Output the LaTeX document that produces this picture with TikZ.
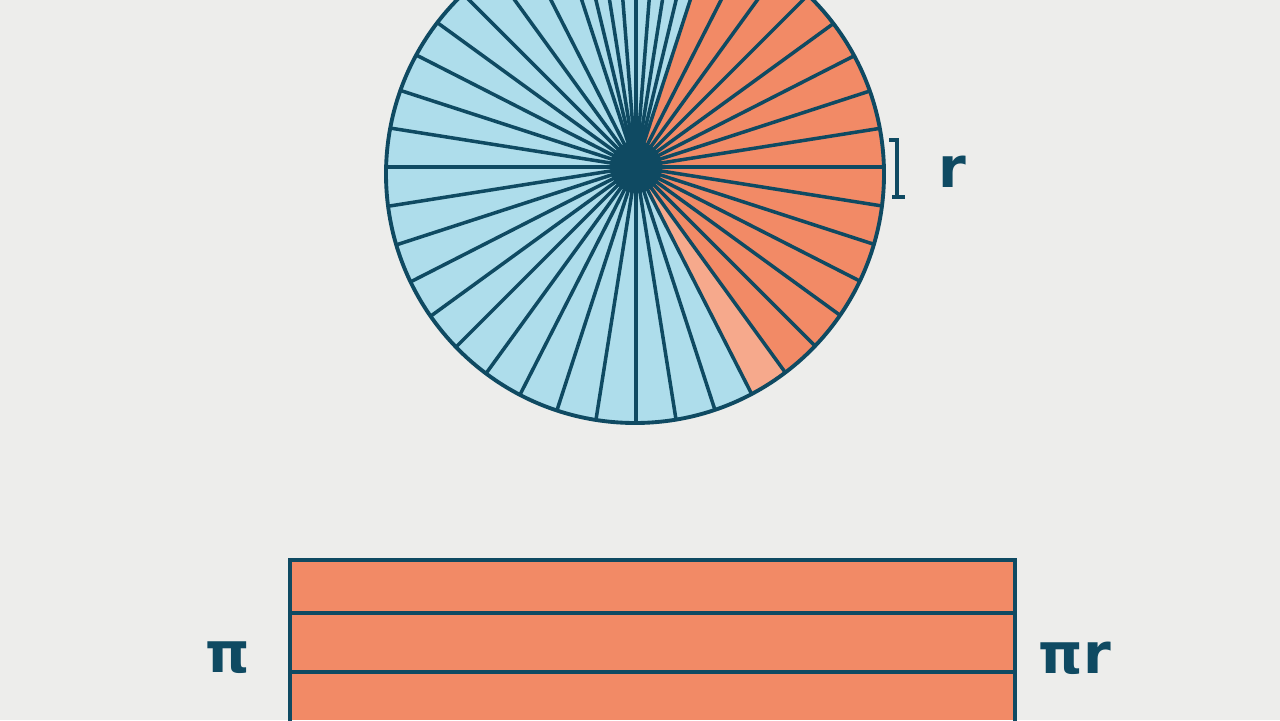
\documentclass[tikz,border=0pt]{standalone}
\usepackage{fontspec}
\setmainfont{DejaVu Sans}
\usetikzlibrary{calc}
\definecolor{bg}{HTML}{EDEDEB}
\definecolor{navy}{HTML}{0F4A62}
\definecolor{skyblue}{HTML}{AEDDEB}
\definecolor{coral}{HTML}{F28A66}
\definecolor{palecoral}{HTML}{F6A98C}
\tikzset{
  rim/.style={draw=navy, line width=2.2pt},
  spoke/.style={draw=navy, line width=2pt},
  edge/.style={draw=navy, line width=2.2pt},
  lab/.style={text=navy, font=\bfseries\fontsize{32}{36}\selectfont, inner sep=0pt},
}
\begin{document}
\begin{tikzpicture}[x=0.02cm, y=0.02cm]
\clip (0,0) rectangle (1280,720);
\fill[bg] (0,0) rectangle (1280,720);
%円%
\coordinate (c) at (635,546);
\coordinate (h) at (636,553);
\begin{scope}
\clip (c) circle (249);
\fill[skyblue] (c) circle (249);
\fill[coral] (h) -- ++(-54:400) arc[start angle=-54, end angle=72, radius=400] -- cycle;
\fill[palecoral] (h) -- ++(-63:400) arc[start angle=-63, end angle=-54, radius=400] -- cycle;
%放射線%
\foreach \a in {0,9,...,351}
  \draw[spoke] (h) -- ++(\a:400);
\foreach \a in {76.5,85.5,94.5,103.5}
  \draw[spoke] (h) -- ++(\a:400);
\end{scope}
\fill[navy] (h) circle (26);
\draw[rim] (c) circle (249);
%半径の印%
\coordinate (rtop) at (897,580);
\coordinate (rbot) at (897,523);
\draw[navy, line width=2.6pt] ($(rtop)+(-8,0)$) -- (rtop) -- (rbot) ($(rbot)+(-5,0)$) -- ($(rbot)+(8,0)$);
\node[lab] (rlab) at (952,548) {r};
%長方形%
\fill[coral] (290,0) rectangle (1015,160);
\draw[edge] (290,-5) -- (290,160) -- (1015,160) -- (1015,-5);
\draw[edge] (290,107) -- (1015,107);
\draw[edge] (290,48) -- (1015,48);
\node[lab] (pilab) at (228,62) {π};
\node[lab] (pirlab) at (1075,62) {πr};
\end{tikzpicture}
\end{document}
